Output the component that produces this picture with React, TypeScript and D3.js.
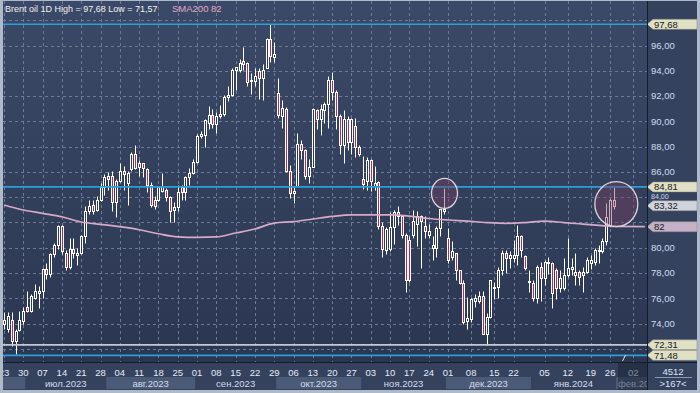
import React from 'react';
import * as d3 from 'd3';

// daily candles, Brent oil
const opens = [
  74.0, 73.6, 74.3, 72.6, 73.5, 74.2, 75.3, 75.0, 76.0, 76.4,
  76.6, 78.3, 77.9, 79.5, 80.2, 81.7, 79.6, 78.5, 79.9, 79.4,
  79.6, 80.9, 82.9, 83.4, 83.0, 83.8, 84.8, 85.7, 85.7, 83.6,
  85.3, 86.1, 85.1, 86.2, 87.4, 86.4, 86.7, 86.2, 85.0, 83.8,
  83.8, 84.5, 84.6, 84.0, 83.0, 83.2, 84.8, 84.4, 85.6, 85.9,
  86.8, 88.8, 88.9, 89.9, 90.5, 89.8, 90.4, 90.6, 91.9, 92.1,
  94.1, 94.1, 94.75, 94.6, 93.2, 93.2, 94.0, 93.4, 94.2, 96.5,
  95.1, 92.25, 90.45, 91.0, 86.1, 84.3, 84.9, 88.2, 87.7, 85.7,
  86.35, 90.9, 90.2, 90.9, 91.35, 93.3, 92.3, 90.4, 88.1, 90.15,
  88.35, 89.6, 87.95, 85.45, 85.3, 86.9, 84.9, 85.2, 81.75, 79.85,
  79.9, 81.6, 82.85, 82.5, 81.0, 80.6, 81.0, 81.9, 82.5, 81.7,
  81.0, 80.0, 80.0, 81.55, 82.9, 80.75, 79.3, 79.55, 78.25, 77.2,
  74.2, 74.35, 75.8, 75.75, 76.15, 73.2, 74.55, 76.8, 76.9, 78.25,
  79.55, 79.15, 79.2, 79.45, 80.9, 79.35, 77.3, 77.2, 76.0, 78.5,
  77.6, 78.9, 78.75, 78.25, 76.8, 76.8, 77.8, 78.3, 77.85, 78.1,
  77.8, 78.1, 78.8, 78.9, 79.7, 79.7, 80.5, 81.8, 83.8,
];
const highs = [
  74.9, 74.9, 74.9, 73.6, 75.0, 75.3, 76.6, 76.3, 77.1, 77.0,
  78.4, 78.8, 79.6, 80.4, 81.8, 81.8, 79.8, 80.8, 80.8, 80.0,
  81.0, 83.3, 83.8, 83.8, 84.1, 85.1, 85.8, 86.0, 86.1, 85.4,
  86.7, 86.5, 86.1, 87.6, 88.1, 86.9, 86.7, 86.3, 85.2, 84.1,
  84.9, 85.9, 84.7, 84.1, 83.6, 85.0, 85.0, 85.7, 86.3, 87.0,
  89.0, 89.2, 90.2, 91.2, 91.0, 90.7, 91.3, 92.1, 92.8, 94.2,
  94.3, 94.9, 95.9, 94.7, 93.8, 94.2, 94.2, 94.5, 96.6, 97.68,
  96.3, 93.4, 91.65, 91.1, 86.55, 84.9, 89.05, 88.5, 87.8, 87.0,
  91.05, 91.0, 91.4, 91.5, 93.6, 93.9, 92.45, 90.6, 90.9, 90.4,
  90.25, 90.25, 88.1, 87.25, 87.2, 87.0, 86.5, 85.25, 82.0, 81.6,
  82.8, 82.95, 83.3, 82.6, 81.15, 80.9, 83.0, 82.9, 82.6, 82.5,
  81.9, 80.9, 81.7, 83.1, 84.7, 81.55, 80.5, 79.55, 78.25, 77.45,
  76.1, 76.0, 76.3, 76.55, 76.55, 74.8, 77.45, 77.3, 78.5, 79.8,
  79.8, 79.7, 80.6, 81.8, 81.0, 79.45, 78.25, 77.45, 78.65, 78.9,
  79.0, 79.3, 78.9, 78.4, 78.25, 79.2, 80.75, 79.2, 79.55, 78.25,
  78.5, 79.3, 79.45, 80.0, 80.25, 80.75, 83.5, 83.9, 84.81,
];
const lows = [
  73.6, 73.3, 72.2, 71.57, 73.4, 74.0, 74.9, 74.9, 75.9, 75.2,
  76.0, 77.5, 77.7, 79.3, 79.9, 79.5, 78.2, 78.3, 79.2, 78.6,
  79.5, 80.4, 82.7, 82.7, 82.9, 83.7, 84.2, 84.6, 82.9, 82.4,
  85.2, 84.6, 83.4, 86.1, 86.2, 85.7, 85.6, 84.4, 83.2, 83.1,
  83.7, 84.4, 83.7, 82.0, 82.0, 82.9, 83.8, 83.8, 85.0, 85.8,
  86.7, 88.7, 88.0, 89.4, 89.5, 89.1, 90.3, 90.4, 91.6, 92.0,
  92.5, 93.9, 94.1, 92.8, 92.2, 92.8, 91.8, 91.7, 94.2, 94.7,
  94.7, 90.3, 89.5, 86.0, 83.9, 83.55, 84.9, 87.0, 85.45, 85.1,
  86.35, 89.4, 88.9, 89.9, 89.5, 91.65, 89.4, 87.4, 86.7, 87.7,
  87.4, 87.15, 87.25, 84.65, 84.6, 84.5, 84.6, 81.5, 79.25, 79.5,
  79.7, 80.3, 81.8, 80.75, 76.5, 77.3, 80.75, 80.1, 78.4, 80.75,
  80.75, 79.0, 79.3, 80.9, 82.7, 78.8, 79.0, 77.45, 77.1, 74.0,
  73.6, 74.15, 75.3, 75.6, 73.2, 72.31, 74.4, 75.9, 76.0, 77.85,
  78.0, 78.4, 78.9, 78.65, 79.3, 78.2, 76.5, 75.75, 75.6, 75.75,
  77.05, 77.9, 75.2, 75.9, 76.5, 76.65, 77.7, 77.8, 77.05, 77.05,
  76.5, 78.0, 78.3, 78.6, 78.8, 79.6, 80.2, 81.7, 83.1,
];
const closes = [
  74.3, 74.6, 72.6, 73.4, 74.3, 75.0, 75.0, 76.2, 76.6, 76.6,
  78.3, 77.9, 79.5, 80.2, 81.7, 79.7, 78.5, 79.9, 79.6, 79.6,
  80.9, 82.9, 83.3, 82.9, 83.8, 84.8, 85.6, 85.4, 83.6, 85.3,
  86.1, 85.8, 85.9, 87.4, 86.3, 86.7, 86.3, 85.0, 83.4, 83.3,
  84.8, 84.9, 84.0, 82.9, 83.2, 84.4, 84.4, 85.6, 85.9, 86.8,
  88.8, 89.0, 90.1, 90.5, 89.8, 90.4, 90.6, 91.9, 92.1, 94.1,
  94.3, 94.6, 94.55, 93.1, 93.3, 93.6, 93.4, 94.1, 96.5, 95.2,
  95.3, 90.5, 91.05, 86.1, 84.3, 84.5, 88.2, 87.75, 85.7, 86.35,
  91.0, 90.2, 90.95, 91.4, 93.3, 92.3, 90.4, 88.1, 90.15, 88.35,
  90.15, 87.95, 87.4, 85.05, 86.9, 85.3, 85.1, 81.75, 79.9, 81.5,
  81.6, 82.8, 82.5, 81.0, 77.45, 77.45, 82.1, 82.5, 82.1, 81.3,
  81.3, 80.2, 81.55, 83.1, 83.1, 79.0, 79.7, 78.25, 77.2, 74.15,
  74.4, 75.9, 76.0, 76.15, 73.2, 74.55, 77.45, 76.9, 78.25, 79.55,
  79.15, 79.45, 79.4, 80.9, 79.8, 78.4, 77.4, 76.0, 78.5, 77.6,
  78.9, 78.75, 76.4, 76.8, 77.6, 77.8, 78.4, 78.5, 78.1, 77.7,
  78.1, 79.05, 79.05, 79.85, 79.85, 80.5, 82.45, 83.8, 83.32,
];

// SMA200, sampled every few candles
const smaIdx = [0, 5, 10, 15, 20, 25, 30, 35, 40, 45, 50, 55, 60, 65, 70, 75, 80, 85, 90, 95, 100, 105, 110, 115, 120, 125, 130, 135, 140, 145, 150, 155, 158, 166];
const smaVal = [83.38, 82.98, 82.72, 82.45, 82.03, 81.85, 81.66, 81.42, 81.1, 80.86, 80.82, 80.85, 81.16, 81.48, 81.95, 82.06, 82.27, 82.47, 82.59, 82.59, 82.59, 82.5, 82.31, 82.19, 82.1, 81.99, 81.93, 81.99, 82.1, 81.99, 81.87, 81.75, 81.68, 81.66];

const weekLabels = ['23', '30', '07', '14', '21', '28', '04', '11', '18', '25', '01', '08', '15', '22', '29', '06', '13', '20', '27', '03', '10', '17', '24', '01', '08', '15', '22', '05', '12', '19', '26', '02'];
const weekIdx = [0, 5, 10, 15, 20, 25, 30, 35, 40, 45, 50, 55, 60, 65, 70, 75, 80, 85, 90, 95, 100, 105, 110, 115, 121, 127, 132, 140, 146, 152, 157, 163];

const monthLabels = ['июл.2023', 'авг.2023', 'сен.2023', 'окт.2023', 'ноя.2023', 'дек.2023', 'янв.2024', 'фев.2024'];
const monthStart = [6, 27, 50, 71, 93, 115, 137, 159];

const priceTicks = [72, 74, 76, 78, 80, 82, 84, 86, 88, 90, 92, 94, 96, 98];

const levelVals = [97.68, 84.81, 72.31, 71.48];
const levelColors = ['#2a9fda', '#2a9fda', '#c4c8d2', '#2a9fda'];

const tagVals = [97.68, 84.81, 83.32, 81.66, 72.31, 71.48];
const tagTexts = ['97,68', '84,81', '83,32', '82', '72,31', '71,48'];
const tagFills = ['#e0e0c4', '#e0e0c4', '#d0d4dc', '#c6b0c8', '#e0e0c4', '#e0e0c4'];

// circled spots: candle index, price, radii in px
const circleIdx = [114.1, 158.6];
const circlePrice = [84.3, 83.45];
const circleRx = [13, 21.5];
const circleRy = [15, 22.5];

const FONT = '"Liberation Sans", Arial, sans-serif';
const UP_FILL = '#2f3b56';
const DOWN_FILL = '#b82c50';

export default function App() {
  const L = 3, R = 647, T = 1, B = 362;
  const x = d3.scaleLinear().domain([0, opens.length - 1]).range([4, 614]);
  const y = d3.scaleLinear().domain([74, 96]).range([323.5, 45.5]);
  const step = x(1) - x(0);
  const sy = (v: number) => Math.round(y(v)) + 0.5;
  const TAG_H = 5;
  const FS = 9.5;

  const smaLine = d3.line<number>()
    .x((_, k) => x(smaIdx[k]))
    .y(d => y(d))
    .curve(d3.curveMonotoneX);

  const fmt = (v: number) => v.toFixed(2).replace('.', ',');
  // tick labels that sit right under a price tag are hidden by it
  const shownTicks = priceTicks.filter(v => tagVals.every(t => Math.abs(y(t) - y(v)) > TAG_H + 0.5));
  // squeeze a label into the gap between the tags around it
  const labelPos = (v: number) => {
    const yv = y(v);
    let gapTop = -1e9, gapBot = 1e9;
    tagVals.forEach(t => {
      const ty = y(t);
      if (ty < yv) gapTop = Math.max(gapTop, ty + TAG_H);
      else gapBot = Math.min(gapBot, ty - TAG_H);
    });
    const need = FS * 1.13;
    if (yv - need / 2 >= gapTop && yv + need / 2 <= gapBot) return { y: yv + 3.3, fs: FS };
    const gap = gapBot - gapTop;
    const fs = Math.min(FS, (gap - 0.8) / 1.13);
    return { y: gapTop + 0.4 + 0.905 * fs, fs };
  };

  return (
    <svg width={700} height={393} style={{ position: 'absolute', left: 0, top: 0, display: 'block' }} fontFamily={FONT}>
      <defs>
        <linearGradient id="bg" x1="0" y1="0" x2="0" y2="1">
          <stop offset="0" stopColor="#3b4968" />
          <stop offset="1" stopColor="#2b3751" />
        </linearGradient>
        <clipPath id="plotClip"><rect x={L} y={T} width={R - L} height={B - T} /></clipPath>
        <clipPath id="xClip"><rect x={L} y={B} width={R - L} height={390 - B} /></clipPath>
      </defs>

      {/* frame */}
      <rect x={0} y={0} width={700} height={393} fill="#aeb9c9" />
      <rect x={L} y={T} width={R - L} height={B - T} fill="url(#bg)" />
      <rect x={L} y={B} width={697 - L} height={390 - B} fill="#34425e" />
      <rect x={R} y={T} width={697 - R} height={B - T} fill="#34425e" />

      <g clipPath="url(#plotClip)">
        {/* grid */}
        {priceTicks.map(v => (
          <line key={'h' + v} x1={L} x2={R} y1={sy(v)} y2={sy(v)} stroke="#6c7a96" strokeDasharray="3,3" />
        ))}
        {weekIdx.map(i => (
          <line key={'v' + i} x1={Math.round(x(i)) + 0.5} x2={Math.round(x(i)) + 0.5} y1={T} y2={B} stroke="#6c7a96" strokeDasharray="3,3" />
        ))}

        {/* candles */}
        {opens.map((o, i) => {
          const c = closes[i];
          const cx = Math.round(x(i)) + 0.5;
          const top = sy(Math.max(o, c));
          let bot = sy(Math.min(o, c));
          if (bot - top < 1) bot = top + 1;
          const up = c >= o;
          return (
            <g key={i}>
              <line x1={cx} x2={cx} y1={sy(highs[i])} y2={top} stroke="#ffffff" />
              <line x1={cx} x2={cx} y1={bot} y2={sy(lows[i])} stroke="#ffffff" />
              <rect x={cx - 1} y={top} width={2} height={bot - top} fill={up ? UP_FILL : DOWN_FILL} stroke="#ffffff" strokeWidth={1} />
            </g>
          );
        })}

        {/* SMA200 */}
        <path d={smaLine(smaVal) || ''} fill="none" stroke="#d6aac8" strokeWidth={1.7} />

        {/* levels */}
        {levelVals.map((v, k) => (
          <line key={'l' + k} x1={L} x2={R} y1={y(v)} y2={y(v)} stroke={levelColors[k]} strokeWidth={1.6} />
        ))}

        {/* circles */}
        {circleIdx.map((ci, k) => (
          <ellipse key={'c' + k} cx={x(ci)} cy={y(circlePrice[k])} rx={circleRx[k]} ry={circleRy[k]}
            fill="rgba(120,62,96,0.42)" stroke="#ddd3de" strokeWidth={1.3} />
        ))}

        {/* little mark near bottom right */}
        <line x1={x(160.6) - 1.5} x2={x(160.6) + 1.5} y1={y(71.27) + 3} y2={y(71.27) - 3} stroke="#e8e8f0" />
      </g>

      {/* legend */}
      <text x={5} y={12} fontSize={9} fill="#f2f2f2">Brent oil 1D High = 97,68 Low = 71,57</text>
      <text x={172} y={12} fontSize={9.5} fill="#e0aac8">SMA200 82</text>

      {/* right axis */}
      {shownTicks.map(v => {
        const p = labelPos(v);
        return <text key={'t' + v} x={651} y={p.y} fontSize={p.fs} fill="#cfdcf2">{fmt(v)}</text>;
      })}
      {tagVals.map((v, k) => {
        const ty = y(v);
        const pts = [[647, ty], [653, ty - TAG_H], [697, ty - TAG_H], [697, ty + TAG_H], [653, ty + TAG_H]].map(p => p.join(',')).join(' ');
        return (
          <g key={'tag' + k}>
            <polygon points={pts} fill={tagFills[k]} stroke="#8a8a80" strokeWidth={0.5} />
            <text x={654} y={ty + 3.4} fontSize={9.5} fill="#1a1a1a">{tagTexts[k]}</text>
          </g>
        );
      })}

      {/* x axis */}
      <g clipPath="url(#xClip)">
        {monthStart.map((s, k) => {
          const x0 = x(s) - step / 2;
          const x1 = k + 1 < monthStart.length ? x(monthStart[k + 1]) - step / 2 : R;
          return k % 2 === 1 ? <rect key={'mb' + k} x={x0} y={377} width={x1 - x0} height={12} fill="#4b5a77" /> : null;
        })}
        <rect x={L} y={377} width={x(monthStart[0]) - step / 2 - L} height={12} fill="#4b5a77" />
        {monthStart.map((s, k) => {
          const x0 = x(s) - step / 2;
          const last = k + 1 >= monthStart.length;
          const x1 = last ? x0 : x(monthStart[k + 1]) - step / 2;
          return (
            <text key={'ml' + k} x={last ? x0 + 2 : (x0 + x1) / 2} y={387} fontSize={9.5} fill="#d4dcea"
              textAnchor={last ? 'start' : 'middle'}>{monthLabels[k]}</text>
          );
        })}
        {weekIdx.map((i, k) => (
          <text key={'wl' + k} x={x(i)} y={376} fontSize={9.5} fill="#e4ebf5" textAnchor="middle">{weekLabels[k]}</text>
        ))}
        <rect x={x(monthStart[monthStart.length - 1]) - step / 2 + 2} y={B} width={R - x(monthStart[monthStart.length - 1])} height={390 - B} fill="rgba(24,32,50,0.5)" />
      </g>

      {/* bottom right box */}
      <text x={673} y={375} fontSize={9.5} fill="#dfe6f2" textAnchor="middle">4512</text>
      <line x1={655} x2={692} y1={377.5} y2={377.5} stroke="#8c98b0" />
      <text x={673} y={387} fontSize={9.5} fill="#dfe6f2" textAnchor="middle">&gt;167&lt;</text>

      {/* separators */}
      <line x1={R + 0.5} x2={R + 0.5} y1={T} y2={390} stroke="#141c2c" />
      <line x1={L} x2={697} y1={B + 0.5} y2={B + 0.5} stroke="#141c2c" />
    </svg>
  );
}
